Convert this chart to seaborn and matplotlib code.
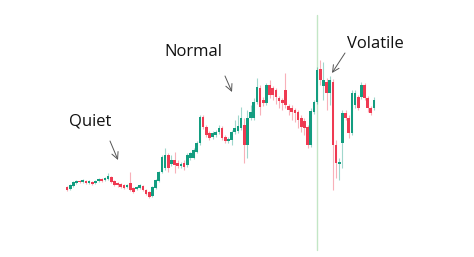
import numpy as np
import pandas as pd
import matplotlib
matplotlib.use("Agg")
import matplotlib.pyplot as plt
import seaborn as sns

# OHLC values (price units, higher = up)
open_ = [70, 68, 71, 74, 76, 75, 76, 74, 75, 74, 76, 78, 77, 78, 80, 76, 74, 73, 72, 70,
         74, 69, 68, 69, 71, 67, 65, 61, 69, 76, 85, 89, 102, 93, 97, 94, 91, 94, 92, 99,
         99, 105, 114, 140, 130, 124, 120, 122, 125, 129, 120, 116, 117, 125, 126, 129, 132, 112,
         139, 139, 155, 169, 157, 154, 172, 169, 167, 159, 157, 167, 151, 149, 147, 145, 139, 136,
         130, 112, 145, 155, 188, 171, 175, 164, 175, 112, 93, 114, 144, 139, 124, 152, 160, 160,
         172, 159, 149, 149]
close = [67, 72, 75, 76, 75, 77, 74, 76, 73, 76, 78, 76, 79, 81, 75, 72, 72, 70, 69, 72,
         67, 65, 70, 72, 67, 63, 60, 70, 77, 85, 100, 102, 89, 97, 92, 91, 93, 90, 102, 104,
         107, 114, 140, 130, 122, 119, 124, 125, 129, 119, 116, 118, 125, 129, 131, 139, 112, 139,
         145, 155, 170, 150, 154, 172, 162, 162, 160, 156, 154, 152, 147, 145, 144, 137, 130, 129,
         112, 146, 155, 187, 177, 177, 164, 177, 112, 94, 95, 144, 139, 124, 164, 164, 149, 172,
         159, 149, 144, 157]
high = [71, 73, 76, 77, 77, 78, 77, 77, 76, 77, 79, 79, 80, 84, 81, 77, 75, 74, 73, 73,
        85, 70, 71, 73, 72, 68, 66, 71, 78, 86, 102, 109, 104, 102, 105, 97, 95, 97, 104, 105,
        109, 116, 142, 142, 132, 126, 126, 127, 132, 131, 122, 120, 127, 137, 142, 150, 139, 147,
        152, 159, 179, 172, 160, 174, 177, 171, 169, 161, 159, 184, 153, 152, 149, 147, 142, 139,
        132, 149, 157, 190, 197, 195, 179, 181, 178, 117, 99, 147, 147, 142, 167, 167, 162, 175,
        174, 161, 151, 160]
low = [66, 67, 70, 73, 74, 74, 73, 73, 72, 73, 75, 75, 76, 77, 74, 71, 70, 69, 68, 69,
       66, 64, 67, 68, 66, 62, 59, 60, 68, 75, 84, 87, 85, 91, 84, 89, 89, 87, 90, 97,
       98, 104, 112, 128, 120, 117, 118, 120, 123, 117, 114, 114, 112, 123, 124, 127, 94, 99,
       137, 137, 153, 142, 151, 152, 159, 157, 153, 149, 147, 149, 142, 137, 135, 129, 125, 122,
       109, 110, 143, 153, 172, 157, 147, 152, 67, 79, 77, 89, 137, 119, 122, 149, 147, 158,
       157, 145, 142, 147]

labels = ["Quiet", "Normal", "Volatile"]

n = min(len(open_), len(close), len(high), len(low))
df = pd.DataFrame({"open": open_[:n], "close": close[:n], "high": high[:n], "low": low[:n]})
df["i"] = np.arange(n)
df["up"] = df["close"] >= df["open"]

GREEN = "#139d80"
RED = "#ef3a52"

sns.set_theme(style="white")
plt.rcParams["font.family"] = ["Open Sans", "DejaVu Sans"]

fig = plt.figure(figsize=(4.74, 2.57), dpi=100)
ax = fig.add_axes([0, 0, 1, 1])

colors = np.where(df["up"], GREEN, RED)
# wicks
ax.vlines(df["i"], df["low"], df["high"], colors=colors, linewidth=0.8, alpha=0.4, zorder=2)
# bodies
bottoms = np.minimum(df["open"], df["close"])
heights = np.maximum(np.abs(df["close"] - df["open"]), 0.9)
ax.bar(df["i"], heights, bottom=bottoms, width=0.85, color=colors, linewidth=0, zorder=3)

# vertical marker line
vi = 79
ax.axvline(vi, ymin=7 / 257, ymax=1 - 15 / 257, color="#c3e6c6", linewidth=1.0, zorder=1)

spacing = (374 - 67) / (n - 1)
ax.set_xlim(-67 / spacing, (474 - 67) / spacing)
ax.set_ylim(0, 257)
ax.axis("off")

arrow = dict(arrowstyle="->", color="#555555", lw=0.7, shrinkA=0, shrinkB=0)
ax.annotate("", xy=(118 / 474, 1 - 160 / 257), xytext=(110 / 474, 1 - 141 / 257),
            xycoords="axes fraction", textcoords="axes fraction", arrowprops=arrow)
ax.annotate("", xy=(232 / 474, 1 - 92 / 257), xytext=(225 / 474, 1 - 76 / 257),
            xycoords="axes fraction", textcoords="axes fraction", arrowprops=arrow)
ax.annotate("", xy=(332 / 474, 1 - 73 / 257), xytext=(345 / 474, 1 - 53 / 257),
            xycoords="axes fraction", textcoords="axes fraction", arrowprops=arrow)

ax.text(90 / 474, 1 - 121 / 257, labels[0], transform=ax.transAxes, ha="center", va="center",
        fontsize=12, color="#111111")
ax.text(193 / 474, 1 - 52 / 257, labels[1], transform=ax.transAxes, ha="center", va="center",
        fontsize=12, color="#111111")
ax.text(375 / 474, 1 - 44 / 257, labels[2], transform=ax.transAxes, ha="center", va="center",
        fontsize=12, color="#111111")

fig.savefig("out.png", dpi=100, facecolor="white")
